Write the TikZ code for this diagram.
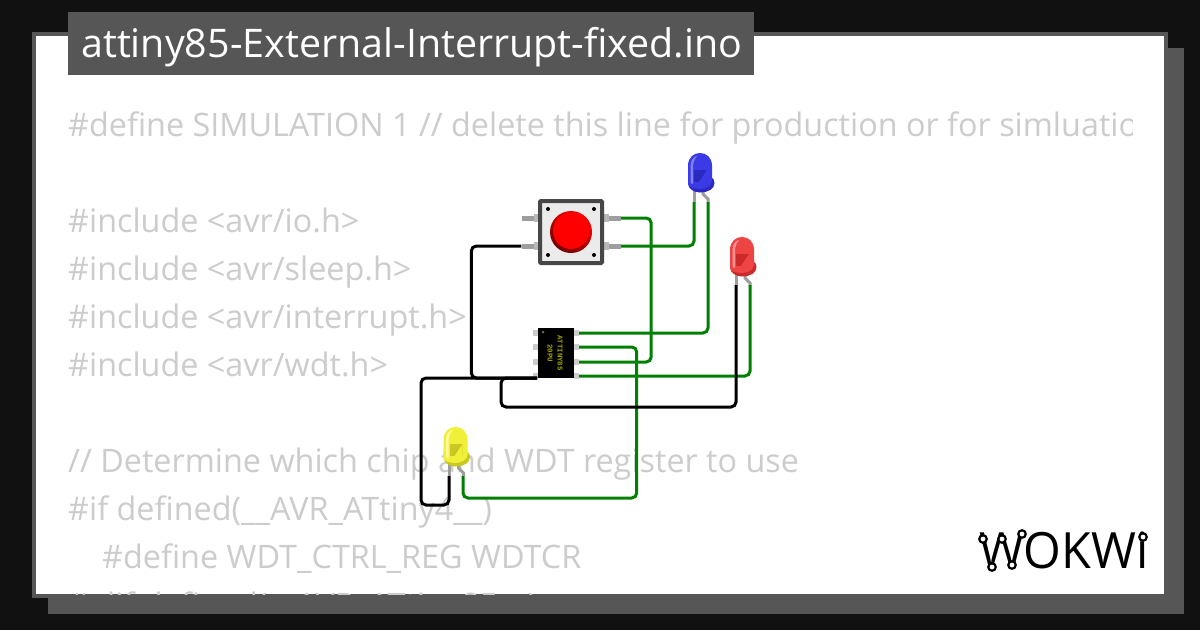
\documentclass[tikz,border=0pt]{standalone}
\usepackage{fontspec}
\setmainfont{Open Sans}
\newfontfamily\chipfont{Liberation Mono}
\usetikzlibrary{calc}
\definecolor{pagebg}{HTML}{111111}
\definecolor{framegray}{HTML}{565656}
\definecolor{codegray}{HTML}{CCCCCC}
\definecolor{wiregreen}{HTML}{008000}
\definecolor{chipolive}{HTML}{A0A000}
\definecolor{blueled}{HTML}{3A3AE6}
\definecolor{bluedark}{HTML}{2A2AC0}
\definecolor{bluelight}{HTML}{8080F2}
\definecolor{redled}{HTML}{EE4444}
\definecolor{reddark}{HTML}{CC2A2A}
\definecolor{redlight}{HTML}{F79090}
\definecolor{yellowled}{HTML}{F0F038}
\definecolor{yellowdark}{HTML}{C8C820}
\definecolor{yellowlight}{HTML}{FAFAA0}
\tikzset{
  codeline/.style={anchor=base west,inner sep=0pt,text=codegray,font=\fontsize{32.35}{32}\selectfont},
  greenwire/.style={draw=wiregreen,line width=3pt,rounded corners=5pt},
  blackwire/.style={draw=black,line width=3pt,rounded corners=5pt},
  btnpin/.style={fill=black!38,minimum width=17pt,minimum height=5pt,inner sep=0pt},
  btncollar/.style={fill=black!28,minimum width=5pt,minimum height=8pt,inner sep=0pt},
  chippin/.style={fill=black!20,minimum width=5pt,minimum height=6pt,inner sep=0pt},
  chiptext/.style={rotate=-90,text=chipolive,inner sep=0pt,font=\chipfont\bfseries\fontsize{7.4}{7}\selectfont},
  bolthole/.style={circle,fill=black,minimum size=4pt,inner sep=0pt},
  logodot/.style={circle,draw=black,fill=white,line width=2.2pt,minimum size=7.5pt,inner sep=0pt},
  pics/led/.style n args={3}{code={
    \draw[black!38,line width=3pt] (-6,36) -- (-6,49);
    \draw[black!38,line width=3pt] (3,36) -- (3,41) -- (8,46) -- (8,49);
    \fill[#2] (-12,30) .. controls (-12,36) and (-6,39.5) .. (0,39.5)
      .. controls (8,39.5) and (14.5,36) .. (14.5,30)
      .. controls (14.5,27) and (13,25) .. (11,24) -- (-12,24) -- cycle;
    \fill[#1] (-12,31) -- (-12,13) .. controls (-12,4) and (-6,0) .. (0,0)
      .. controls (6,0) and (12,4) .. (12,13) -- (12,28)
      .. controls (12,33) and (5,36) .. (0,36) .. controls (-6,36) and (-12,34) .. (-12,31) -- cycle;
    \fill[#3] (-9.5,30) -- (-9.5,13) .. controls (-9.5,8) and (-7,4) .. (-3,3)
      .. controls (-6,7) and (-7,10) .. (-7,13) -- (-7,31) -- cycle;
    \fill[#2] (-6,17) -- (7,17) -- (7,29) -- (-6,29) -- cycle;
    \fill[#1] (7,17) -- (7,29) -- (-1,29) -- cycle;
  }}
}
\begin{document}
\begin{tikzpicture}[x=1pt,y=-1pt]
  \useasboundingbox (0,0) rectangle (1200,630);
  \fill[pagebg] (0,0) rectangle (1200,630);
  \fill[framegray] (48,48) rectangle (1184,614);
  \fill[framegray] (32,32) rectangle (1168,598);
  \fill[white] (36,36) rectangle (1164,594);
  % listing
  \begin{scope}
    \clip (68,80) rectangle (1132,594);
    \node[codeline] (line1) at (68,136) {\#define SIMULATION 1 // delete this line for production or for simluation};
    \node[codeline] (line2) at (68,232) {\#include <avr/io.h>};
    \node[codeline] (line3) at (68,280) {\#include <avr/sleep.h>};
    \node[codeline] (line4) at (68,328) {\#include <avr/interrupt.h>};
    \node[codeline] (line5) at (68,376) {\#include <avr/wdt.h>};
    \node[codeline] (line6) at (68,472) {// Determine which chip and WDT register to use};
    \node[codeline] (line7) at (68,520) {\#if defined(\_\_AVR\_ATtiny4\_\_)};
    \node[codeline] (line8) at (102,568) {\#define WDT\_CTRL\_REG WDTCR};
    \node[codeline] (line9) at (68,616) {\#elif defined(\_\_AVR\_ATtiny85\_\_)};
  \end{scope}
  % title
  \fill[framegray] (68,12) rectangle (754,75);
  \node[anchor=base west,inner sep=0pt,text=white,font=\fontsize{39.4}{39}\selectfont] (title) at (81,57.5) {attiny85-External-Interrupt-fixed.ino};
  % button
  \node[btnpin] (btntl) at (530,218) {};
  \node[btnpin] (btnbl) at (530,246) {};
  \node[btnpin] (btntr) at (612.5,218) {};
  \node[btnpin] (btnbr) at (612.5,246) {};
  \foreach \cy [count=\ci] in {218,246} {
    \node[btncollar] (collarl\ci) at (536,\cy) {};
    \node[btncollar] (collarr\ci) at (606,\cy) {};
  }
  \node[draw=black!72,fill=black!8,line width=4pt,rounded corners=1pt,minimum size=62pt,inner sep=0pt] (btn) at (571,232) {};
  \foreach \hx/\hy [count=\hi] in {548/209,594/209,548/255,594/255}
    \node[bolthole] (hole\hi) at (\hx,\hy) {};
  \shade[top color=red,bottom color=red!45!black,shading angle=-35] (571,232) circle (21);
  \fill[red] (571,231) circle (18);
  % chip
  \foreach \py [count=\pi] in {333,347,362,376} {
    \node[chippin] (pinl\pi) at (535.5,\py) {};
    \node[chippin] (pinr\pi) at (576.5,\py) {};
  }
  \node[fill=black,minimum width=36pt,minimum height=50pt,inner sep=0pt] (chip) at (556,353) {};
  \node[circle,fill=black!60,minimum size=3pt,inner sep=0pt] (chipdot) at (543,332) {};
  \node[chiptext] (chipname) at (560,353) {ATTINY85};
  \node[chiptext] (chipcode) at (550,353) {20PU};
  % leds
  \pic (ledblue) at (700,153) {led={blueled}{bluedark}{bluelight}};
  \pic (ledred) at (742,237) {led={redled}{reddark}{redlight}};
  \pic (ledyellow) at (455.5,427) {led={yellowled}{yellowdark}{yellowlight}};
  % wire ends
  \coordinate (blueA) at (694,202);
  \coordinate (blueC) at (708,202);
  \coordinate (redA) at (736,285);
  \coordinate (redC) at (750,285);
  \coordinate (yellowA) at (449,476);
  \coordinate (yellowC) at (463,476);
  \coordinate (gnd) at (537,378);
  % wires
  \draw[greenwire] (btntr.east) -- ++(30,0) |- (pinr3.east);
  \draw[greenwire] (btnbr.east) -| (blueA);
  \draw[greenwire] (blueC) |- (pinr1.east);
  \draw[greenwire] (pinr2.east) -- ++(57.5,0) |- (463,498) -- (yellowC);
  \draw[greenwire] (redC) |- (pinr4.east);
  \draw[blackwire] (btnbl.west) -- ++(-50,0) |- (gnd);
  \draw[blackwire] (redA) |- (501,407) |- (gnd);
  \draw[blackwire] (gnd) -| (421,505) -| (yellowA);
  % logo
  \node[anchor=base west,inner sep=0pt,text=black,xscale=.97,font=\fontsize{50}{50}\selectfont] (logo) at (979,568) {WOKWi};
  \foreach \lx/\ly [count=\li] in {983/539,1002/539,1022/534,992/567,1012/565,1143/537}
    \node[logodot] (logodot\li) at (\lx,\ly) {};
\end{tikzpicture}
\end{document}
